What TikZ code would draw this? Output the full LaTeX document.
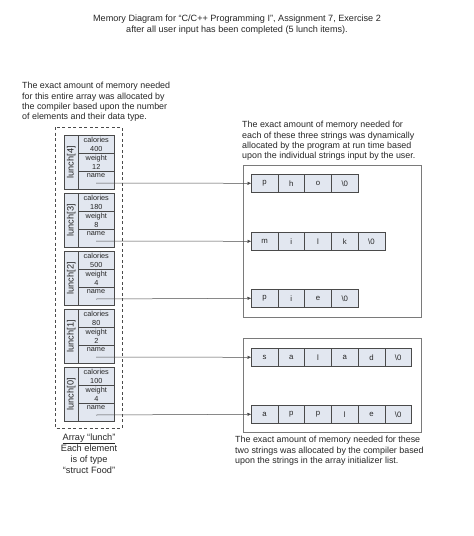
\documentclass[tikz,border=0pt]{standalone}
\usepackage{fontspec}
\setmainfont{Liberation Sans}
\usetikzlibrary{arrows.meta}
\definecolor{cellfill}{HTML}{E2E7F0}
\definecolor{cellline}{HTML}{4A4A4A}
\definecolor{boxline}{HTML}{7A7A7A}
\definecolor{txtcol}{HTML}{262626}
\begin{document}
\begin{tikzpicture}[x=1pt,y=-1pt,
  bodytxt/.style={font=\fontsize{8.9}{10.4}\selectfont, text=txtcol, inner sep=0pt, align=left, anchor=north west},
  titletxt/.style={font=\fontsize{9.1}{11}\selectfont, text=txtcol, inner sep=0pt, align=center},
  labcol/.style={draw=cellline, fill=cellfill, line width=0.6pt, minimum width=14pt, minimum height=54pt, inner sep=0pt, anchor=north west},
  fieldcell/.style={draw=cellline, fill=cellfill, line width=0.6pt, minimum width=36pt, minimum height=18pt, inner sep=0pt, anchor=north west, align=center, font=\fontsize{7.3}{8.3}\selectfont, text=txtcol},
  strcell/.style={draw=cellline, fill=cellfill, line width=0.6pt, minimum width=26.7pt, minimum height=18pt, inner sep=0pt, anchor=north west, font=\fontsize{7.8}{9}\selectfont, text=txtcol},
  membox/.style={draw=boxline, line width=0.8pt},
  ptr/.style={draw=cellline, line width=0.5pt, -{Triangle[length=3.5pt,width=3pt]}}
]
\useasboundingbox (0,0) rectangle (474,536);

% title
\node[titletxt] (title) at (237,24.5) {Memory Diagram for “C/C++ Programming I”, Assignment 7, Exercise 2\\after all user input has been completed (5 lunch items).};

% left text
\node[bodytxt] (lefttxt) at (22,82) {The exact amount of memory needed\\for this entire array was allocated by\\the compiler based upon the number\\of elements and their data type.};

% dashed array outline
\draw[cellline, dashed, dash pattern=on 3pt off 2.5pt, line width=0.6pt] (55,127) rectangle (122,428);

% records
\foreach \idx/\top/\cal/\wt in {4/135/400/12, 3/193/180/8, 2/251/500/4, 1/309/80/2, 0/367/100/4}{
  \node[labcol] (lab\idx) at (64,\top) {};
  \node[rotate=90, font=\fontsize{9.2}{10}\selectfont, text=txtcol, inner sep=0pt] at (lab\idx.center) {lunch[\idx]};
  \node[fieldcell] (cal\idx) at (78,\top) {calories\\\cal};
  \node[fieldcell] (wt\idx) at (78,\top+18) {weight\\\wt};
  \node[fieldcell] (nm\idx) at (78,\top+36) {};
  \node[font=\fontsize{7.3}{8.3}\selectfont, text=txtcol, inner sep=0pt] at (96,\top+40.5) {name};
  \coordinate (p\idx) at (96,\top+48);
}

% label under array
\node[font=\fontsize{9.2}{11}\selectfont, text=txtcol, inner sep=0pt, align=center] (arrlab) at (89,453.5) {\underline{Array “lunch”}\\Each element\\is of type\\“struct Food”};

% right upper text
\node[bodytxt] (rtxt) at (242,121) {The exact amount of memory needed for\\each of these three strings was dynamically\\allocated by the program at run time based\\upon the individual strings input by the user.};

% memory boxes
\draw[membox] (243,165) rectangle (421,317);
\draw[membox] (243,338) rectangle (421,432);

% strings
\foreach \s/\y/\chars in {a/174/{p,h,o,\textbackslash 0}, b/232/{m,i,l,k,\textbackslash 0}, c/289/{p,i,e,\textbackslash 0}, d/348/{s,a,l,a,d,\textbackslash 0}, e/405/{a,p,p,l,e,\textbackslash 0}}{
  \foreach \ch [count=\k from 0] in \chars {
    \node[strcell] (s\s\k) at (251+26.7*\k,\y) {\ch};
  }
}

% pointers
\draw[ptr] (p4) -- (sa0.west);
\draw[ptr] (p3) -- (sb0.west);
\draw[ptr] (p2) -- (sc0.west);
\draw[ptr] (p1) -- (sd0.west);
\draw[ptr] (p0) -- (se0.west);

% bottom right text
\node[bodytxt] (btxt) at (235,436) {The exact amount of memory needed for these\\two strings was allocated by the compiler based\\upon the strings in the array initializer list.};
\end{tikzpicture}
\end{document}
